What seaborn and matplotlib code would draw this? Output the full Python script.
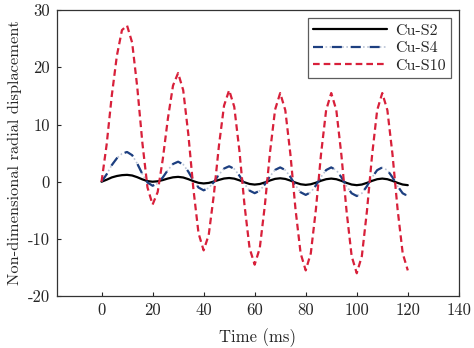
import numpy as np
import pandas as pd
import matplotlib
matplotlib.use("Agg")
import matplotlib.pyplot as plt
from matplotlib.legend_handler import HandlerTuple
import seaborn as sns

time_ms = list(range(0, 121, 2))

cu_s2 = [0, 0.35, 0.75, 1.0, 1.15, 1.2,
         1.09, 0.79, 0.41, 0.11, 0.0,
         0.08, 0.29, 0.56, 0.77, 0.85,
         0.74, 0.45, 0.10, -0.19, -0.3,
         -0.21, 0.03, 0.32, 0.56, 0.65,
         0.54, 0.25, -0.10, -0.39, -0.5,
         -0.40, -0.12, 0.22, 0.50, 0.6,
         0.49, 0.20, -0.15, -0.44, -0.55,
         -0.44, -0.17, 0.17, 0.44, 0.55,
         0.44, 0.15, -0.20, -0.49, -0.6,
         -0.49, -0.20, 0.15, 0.44, 0.55,
         0.44, 0.15, -0.20, -0.49, -0.6]

cu_s4 = [0, 1.3, 2.9, 4.1, 4.9, 5.2,
         4.64, 3.16, 1.34, -0.14, -0.7,
         -0.3, 0.75, 2.05, 3.1, 3.5,
         3.02, 1.77, 0.23, -1.02, -1.5,
         -1.1, -0.05, 1.25, 2.3, 2.7,
         2.25, 1.08, -0.38, -1.55, -2.0,
         -1.57, -0.45, 0.95, 2.07, 2.5,
         2.04, 0.84, -0.64, -1.84, -2.3,
         -1.84, -0.64, 0.84, 2.04, 2.5,
         2.02, 0.77, -0.77, -2.02, -2.5,
         -2.02, -0.77, 0.77, 2.02, 2.5,
         2.02, 0.77, -0.77, -2.02, -2.5]

cu_s10 = [0, 6.5, 15.0, 22.0, 26.5, 27.3,
          24.3, 16.5, 6.8, -1.0, -4.0,
          -1.8, 3.95, 11.05, 16.8, 19.0,
          16.0, 8.3, -1.3, -9.0, -12.0,
          -9.3, -2.3, 6.3, 13.3, 16.0,
          13.1, 5.5, -4.0, -11.6, -14.5,
          -11.6, -4.1, 5.1, 12.6, 15.5,
          12.5, 4.8, -4.8, -12.5, -15.5,
          -12.5, -4.8, 4.8, 12.5, 15.5,
          12.5, 4.6, -5.1, -13.0, -16.0,
          -13.0, -5.1, 4.6, 12.5, 15.5,
          12.5, 4.8, -4.8, -12.5, -15.5]

series_names = ["Cu-S2", "Cu-S4", "Cu-S10"]

df = pd.concat([
    pd.DataFrame({"t": time_ms, "y": vals, "series": name})
    for name, vals in zip(series_names, [cu_s2, cu_s4, cu_s10])
], ignore_index=True)

sns.set_style("ticks")
plt.rcParams["font.family"] = ["cmr10", "DejaVu Serif"]
plt.rcParams["mathtext.fontset"] = "cm"
plt.rcParams["axes.unicode_minus"] = False
plt.rcParams["axes.formatter.use_mathtext"] = False

fig = plt.figure(figsize=(4.74, 3.48), dpi=100)
ax = fig.add_axes([0.120, 0.149, 0.848, 0.822])

# faint dotted underlay of Cu-S4 (the light dots between its dashes)
sns.lineplot(data=df[df.series == "Cu-S4"], x="t", y="y", ax=ax,
             color="#b9c3d6", linewidth=1.2, linestyle=(0, (1, 1.5)),
             legend=False)
faint = ax.lines[-1]

palette = {"Cu-S2": "#000000", "Cu-S4": "#1d3f80", "Cu-S10": "#d8203a"}
dashes = {"Cu-S2": "", "Cu-S4": (4.5, 4.0), "Cu-S10": (3, 1.8)}
sns.lineplot(data=df, x="t", y="y", hue="series", style="series",
             palette=palette, dashes=dashes, hue_order=series_names,
             style_order=series_names, ax=ax, linewidth=1.6, legend=True)

ax.set_xlim(-17.5, 140)
ax.set_ylim(-20, 30)
ax.set_xticks([0, 20, 40, 60, 80, 100, 120, 140])
ax.set_yticks([-20, -10, 0, 10, 20, 30])
ax.tick_params(direction="in", length=3, labelsize=12, width=0.8, pad=5)
for s in ax.spines.values():
    s.set_linewidth(0.9)
    s.set_color("#333333")
ax.set_xlabel("Time (ms)", fontsize=12, labelpad=7)
ax.set_ylabel("Non-dimensional radial displacement", fontsize=11.8, labelpad=4)

handles, labels = ax.get_legend_handles_labels()
old = ax.get_legend()
if old is not None:
    old.remove()
hmap = dict(zip(labels, handles))
leg_handles = [hmap["Cu-S2"], (faint, hmap["Cu-S4"]), hmap["Cu-S10"]]
leg = ax.legend(leg_handles, series_names, loc="upper right", fontsize=11.5,
                frameon=True, fancybox=False, edgecolor="#333333",
                handlelength=4.6, borderaxespad=0.5, labelspacing=0.2,
                handletextpad=0.5, borderpad=0.35,
                handler_map={tuple: HandlerTuple(ndivide=1)})
leg.get_frame().set_linewidth(0.9)

fig.savefig("out.png", dpi=100)
